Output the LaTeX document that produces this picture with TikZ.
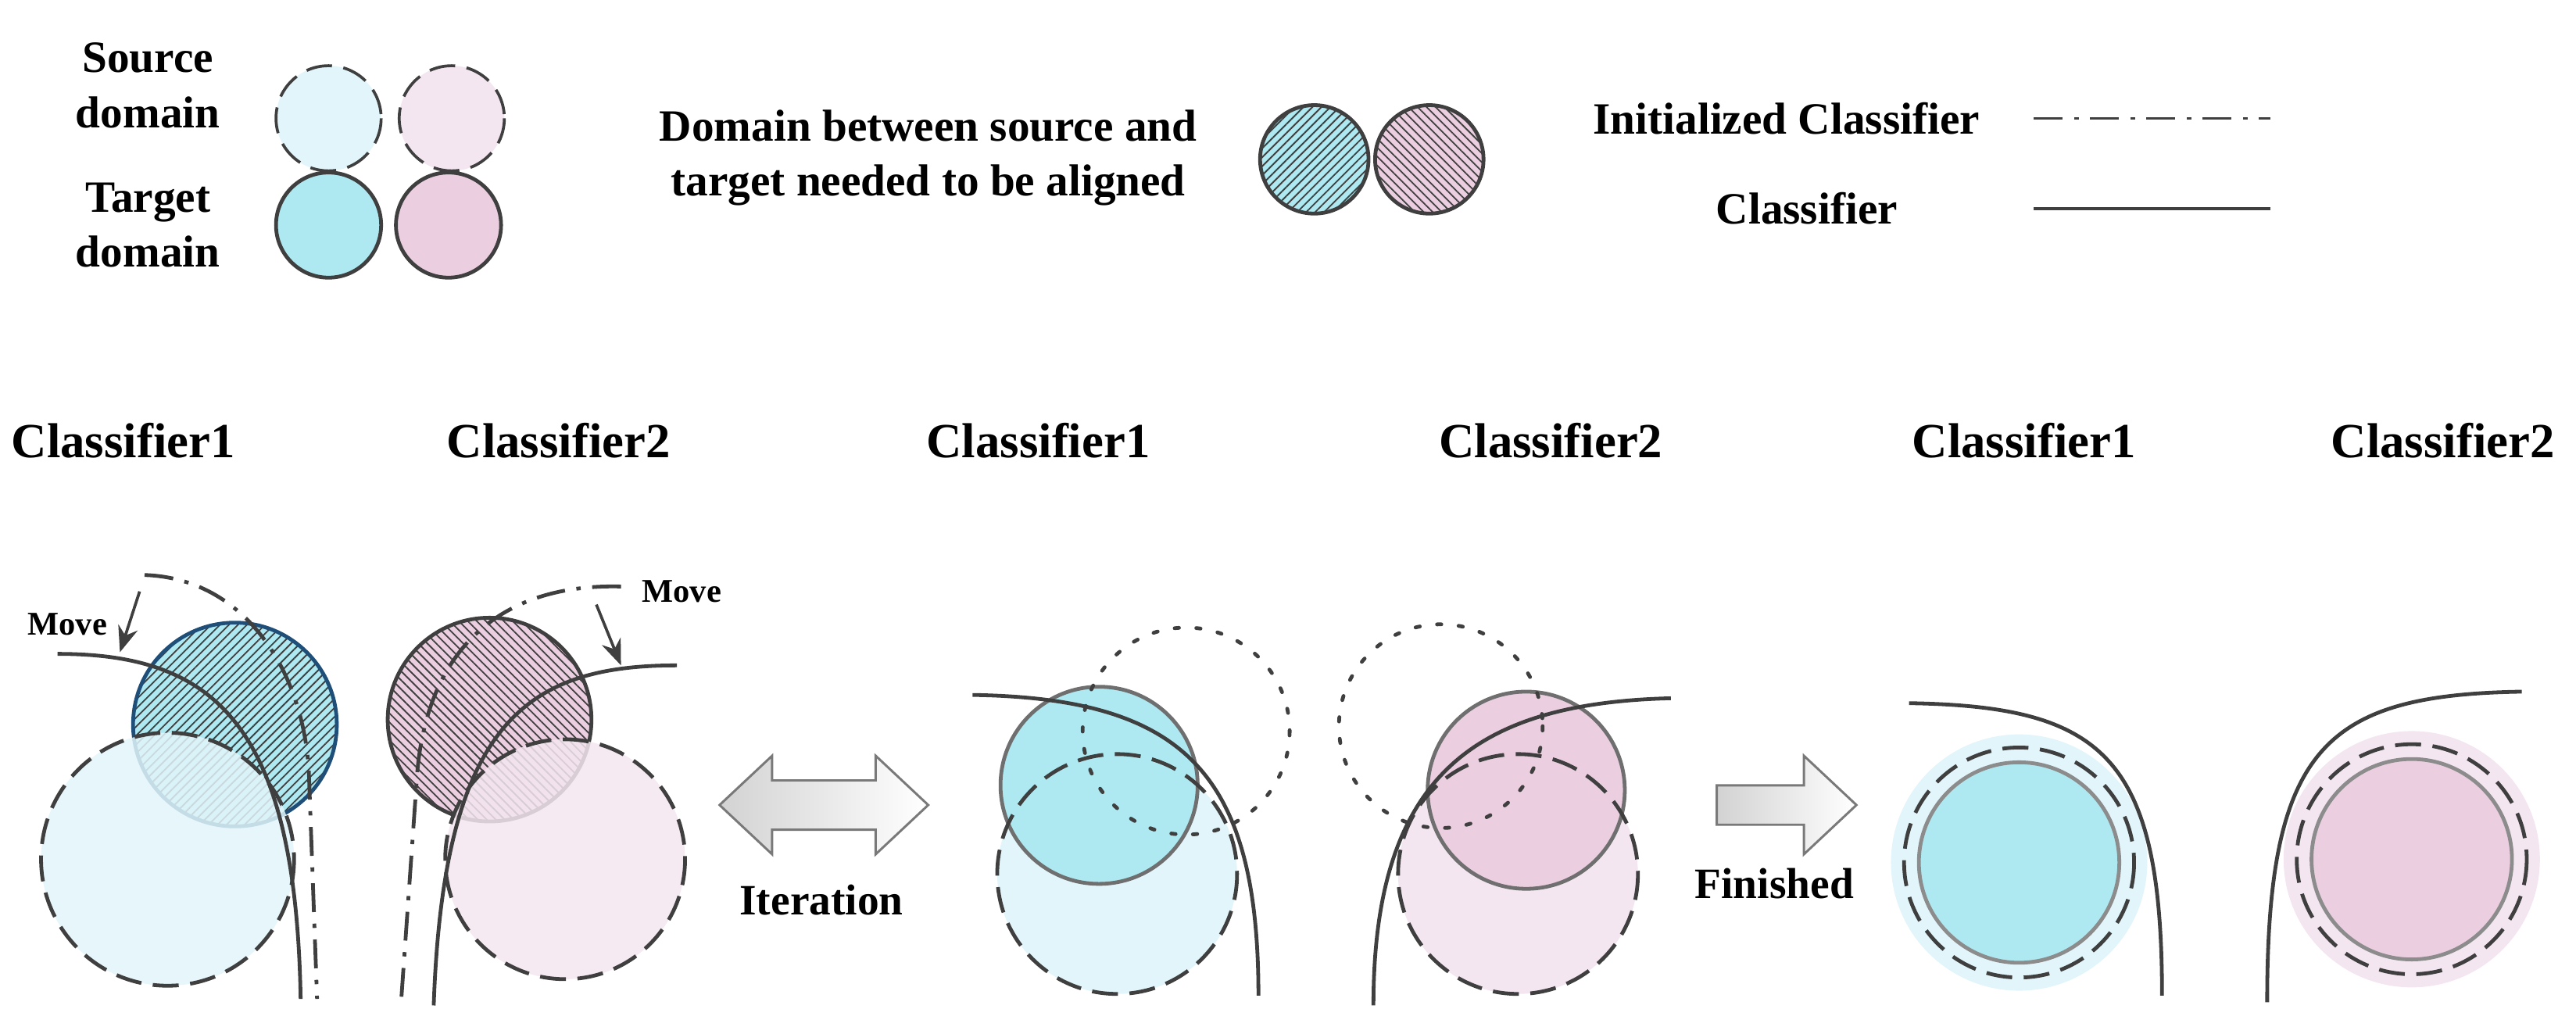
\documentclass[tikz,border=0pt]{standalone}
\usepackage{fontspec}
\setmainfont{Liberation Serif}
\usetikzlibrary{patterns.meta,arrows.meta}
\definecolor{srcC}{HTML}{E2F5FA}
\definecolor{tgtC}{HTML}{AEE9F2}
\definecolor{srcP}{HTML}{F4E6F0}
\definecolor{tgtP}{HTML}{EBCFE0}
\definecolor{ln}{HTML}{3F3F3F}
\definecolor{bl}{HTML}{1F4E79}
\begin{document}
\begin{tikzpicture}[x=0.02cm,y=-0.02cm,line width=1.3pt,
  lbl/.style={font=\fontsize{17}{19}\selectfont\bfseries},
  leg/.style={font=\fontsize{15.5}{19}\selectfont\bfseries,align=center},
  sm/.style={font=\fontsize{11.5}{13}\selectfont\bfseries},
  mid/.style={font=\fontsize{15}{17}\selectfont\bfseries},
  dsh/.style={draw=ln,dash pattern=on 9pt off 4pt},
  dd/.style={draw=ln,dash pattern=on 10pt off 4pt on 1.5pt off 4pt},
  sol/.style={draw=ln},
  dot/.style={draw=ln,dash pattern=on 1.5pt off 6pt,line cap=round},
  hatchC/.style={pattern={Lines[angle=45,distance=2.2pt,line width=0.5pt]},pattern color=ln},
  hatchP/.style={pattern={Lines[angle=-45,distance=2.2pt,line width=0.5pt]},pattern color=ln},
  bigarrow/.style={draw=ln!70,line width=0.8pt,left color=gray!35,right color=white}]
\useasboundingbox (0,0) rectangle (1568,629);
% ---------- legend ----------
\node[leg] (ls) at (90,52) {Source\\domain};
\node[leg] (lt) at (90,137) {Target\\domain};
\fill[srcC] (200,72) circle[radius=32]; \draw[dsh,line width=1pt] (200,72) circle[radius=32];
\fill[srcP] (275,72) circle[radius=32]; \draw[dsh,line width=1pt] (275,72) circle[radius=32];
\draw[sol,fill=tgtC] (200,137) circle[radius=32];
\draw[sol,fill=tgtP] (273,137) circle[radius=32];
\node[leg] (la) at (565,96) {Domain between source and\\target needed to be aligned};
\fill[tgtC] (800,97) circle[radius=33]; \draw[sol,hatchC] (800,97) circle[radius=33];
\fill[tgtP] (870,97) circle[radius=33]; \draw[sol,hatchP] (870,97) circle[radius=33];
\node[leg,anchor=east] (li) at (1212,72) {Initialized Classifier};
\node[leg,anchor=east] (lc) at (1162,127) {Classifier};
\coordinate (i1) at (1238,72); \coordinate (i2) at (1382,72);
\coordinate (c1) at (1238,127); \coordinate (c2) at (1382,127);
\draw[dd,line width=1pt] (i1) -- (i2);
\draw[sol,line width=1pt] (c1) -- (c2);
% ---------- group 1 ----------
\node[lbl] (g1) at (75,268) {Classifier1};
\fill[tgtC] (143,441) circle[radius=62];
\draw[draw=bl,hatchC] (143,441) circle[radius=62];
\fill[srcC,opacity=0.85] (102,523) circle[radius=77];
\draw[dsh] (102,523) circle[radius=77];
\draw[sol] (35,398) .. controls (130,398) and (180,440) .. (183,608);
\draw[dd] (88,350) .. controls (150,352) and (185,410) .. (188,470) -- (193,608);
\node[sm] (m1) at (41,380) {Move};
\coordinate (a1) at (85,360); \coordinate (a2) at (73,397);
\draw[sol,line width=1pt,-{Stealth[length=9pt,width=7pt]}] (a1) -- (a2);
% ---------- group 2 ----------
\node[lbl] (g2) at (340,268) {Classifier2};
\fill[tgtP] (298,438) circle[radius=62];
\draw[sol,hatchP] (298,438) circle[radius=62];
\fill[srcP,opacity=0.85] (344,523) circle[radius=73];
\draw[dsh] (344,523) circle[radius=73];
\draw[sol] (412,405) .. controls (320,405) and (270,440) .. (264,612);
\draw[dd] (378,357) .. controls (300,355) and (260,400) .. (254,470) -- (244,612);
\node[sm] (m2) at (415,360) {Move};
\coordinate (b1) at (363,368); \coordinate (b2) at (378,405);
\draw[sol,line width=1pt,-{Stealth[length=9pt,width=7pt]}] (b1) -- (b2);
% ---------- iteration arrow ----------
\draw[bigarrow] (438,490) -- (470,460) -- (470,475) -- (533,475) -- (533,460) -- (565,490)
  -- (533,520) -- (533,505) -- (470,505) -- (470,520) -- cycle;
\node[mid] (it) at (500,548) {Iteration};
% ---------- group 3 ----------
\node[lbl] (g3) at (632,268) {Classifier1};
\fill[srcC] (680,532) circle[radius=73];
\fill[tgtC] (669,478) circle[radius=60];
\draw[draw=ln!75] (669,478) circle[radius=60];
\draw[dsh] (680,532) circle[radius=73];
\draw[dot] (722,445) circle[radius=63];
\draw[sol] (592,423) .. controls (720,425) and (766,470) .. (766,606);
% ---------- group 4 ----------
\node[lbl] (g4) at (944,268) {Classifier2};
\fill[srcP] (924,532) circle[radius=73];
\fill[tgtP] (929,481) circle[radius=60];
\draw[draw=ln!75] (929,481) circle[radius=60];
\draw[dsh] (924,532) circle[radius=73];
\draw[dot] (877,442) circle[radius=62];
\draw[sol] (1017,425) .. controls (900,428) and (836,470) .. (836,612);
% ---------- finished arrow ----------
\draw[bigarrow] (1045,478) -- (1098,478) -- (1098,460) -- (1130,490) -- (1098,520) -- (1098,502) -- (1045,502) -- cycle;
\node[mid] (fi) at (1080,538) {Finished};
% ---------- group 5 ----------
\node[lbl] (g5) at (1232,268) {Classifier1};
\fill[srcC] (1229,525) circle[radius=78];
\draw[dsh] (1229,525) circle[radius=70];
\draw[draw=ln!60,fill=tgtC] (1229,525) circle[radius=61];
\draw[sol] (1162,428) .. controls (1280,430) and (1316,460) .. (1316,606);
% ---------- group 6 ----------
\node[lbl,anchor=east] (g6) at (1562,268) {Classifier2};
\fill[srcP] (1468,523) circle[radius=78];
\draw[dsh] (1468,523) circle[radius=70];
\draw[draw=ln!60,fill=tgtP] (1468,523) circle[radius=61];
\draw[sol] (1535,421) .. controls (1415,423) and (1380,455) .. (1380,610);
\end{tikzpicture}
\end{document}
